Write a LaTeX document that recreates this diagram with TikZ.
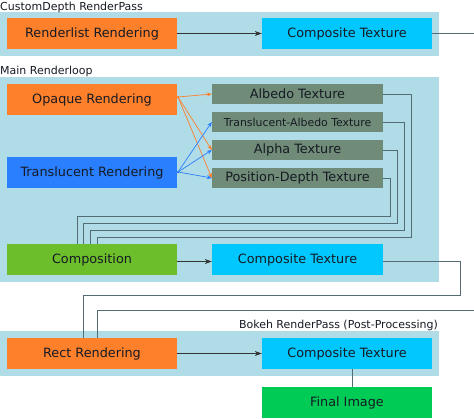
\documentclass[tikz,border=0pt]{standalone}
\usepackage{fontspec}
\setmainfont{DejaVu Sans}
\usetikzlibrary{arrows.meta}
\definecolor{panel}{RGB}{176,220,232}
\definecolor{orng}{RGB}{255,128,42}
\definecolor{cyanb}{RGB}{0,200,255}
\definecolor{texg}{RGB}{112,140,120}
\definecolor{blu}{RGB}{42,127,255}
\definecolor{compg}{RGB}{108,190,42}
\definecolor{fing}{RGB}{0,204,85}
\definecolor{conn}{RGB}{84,108,116}
\definecolor{txt}{RGB}{22,26,36}
\tikzset{
  box/.style={minimum width=170pt, minimum height=31pt, inner sep=0pt, text=txt, font=\fontsize{12.8}{14}\selectfont},
  tex/.style={minimum width=171pt, minimum height=20pt, inner sep=0pt, fill=texg, text=txt, font=\fontsize{12.8}{14}\selectfont},
  lbl/.style={inner sep=0pt, text=txt, font=\fontsize{11}{13}\selectfont},
  wire/.style={draw=conn, line width=1pt},
  flow/.style={draw=black!80, line width=0.9pt, -{Stealth[length=7pt,width=5pt]}},
  oarr/.style={draw=orng, line width=0.7pt, -{Stealth[length=5pt,width=4pt]}},
  barr/.style={draw=blu, line width=0.7pt, -{Stealth[length=5pt,width=4pt]}},
}
\begin{document}
\begin{tikzpicture}[x=1pt,y=-1pt]
\useasboundingbox (0,0) rectangle (474,418);
\clip (0,0) rectangle (474,418);
% panels
\fill[panel] (0,12) rectangle (439,56);
\fill[panel] (0,77) rectangle (439,282);
\fill[panel] (0,331) rectangle (439,376);
% labels
\node[lbl, anchor=base west] (l1) at (0,10) {CustomDepth RenderPass};
\node[lbl, anchor=base west] (l2) at (0,74) {Main Renderloop};
\node[lbl, anchor=base east] (l3) at (438,328) {Bokeh RenderPass (Post-Processing)};
% nodes
\node[box, fill=orng] (rl) at (92,33.5) {Renderlist Rendering};
\node[box, fill=cyanb] (ct1) at (347,33.5) {Composite Texture};
\node[box, fill=orng] (op) at (92,99.5) {Opaque Rendering};
\node[box, fill=blu] (tr) at (92,172.5) {Translucent Rendering};
\node[tex] (alb) at (297.5,94) {Albedo Texture};
\node[tex, font=\fontsize{10.9}{12}\selectfont] (talb) at (297.5,122) {Translucent-Albedo Texture};
\node[tex] (alpha) at (297.5,150) {Alpha Texture};
\node[tex] (pd) at (297.5,178) {Position-Depth Texture};
\node[box, fill=compg] (comp) at (92,259.5) {Composition};
\node[box, fill=cyanb, minimum width=171pt] (ct2) at (297.5,259.5) {Composite Texture};
\node[box, fill=orng] (rect) at (92,353.5) {Rect Rendering};
\node[box, fill=cyanb] (ct3) at (347,353.5) {Composite Texture};
\node[box, fill=fing] (fin) at (347,402.5) {Final Image};
% texture outputs
\draw[wire] (alb.east) -| (411,237) -| ([xshift=5pt]comp.north);
\draw[wire] (talb.east) -| (404,230) -| ([xshift=-2pt]comp.north);
\draw[wire] (alpha.east) -| (397,223) -| ([xshift=-9pt]comp.north);
\draw[wire] (pd.east) -| (390,216) -| ([xshift=-15pt]comp.north);
% composite outputs
\draw[wire] ([yshift=-2pt]ct2.east) -| (460,295) -| ([xshift=-9pt]rect.north);
\draw[wire] (ct1.east) -- (490,33.5) -- (490,310) -| ([xshift=5pt]rect.north);
\draw[wire] ([xshift=5pt]ct3.south) -- ([xshift=5pt]fin.north);
% flows
\draw[flow] (rl) -- (ct1);
\draw[flow] ([yshift=-2pt]comp.east) -- ([yshift=-2pt]ct2.west);
\draw[flow] (rect) -- (ct3);
% coloured arrows
\coordinate (os) at (178,97);
\coordinate (ts) at (178,172);
\fill[orng] (os) circle (1.3pt);
\fill[blu] (ts) circle (1.3pt);
\draw[oarr] (os) -- (alb.west);
\draw[oarr] (os) -- (alpha.west);
\draw[oarr] (os) -- (pd.west);
\draw[barr] (ts) -- (talb.west);
\draw[barr] (ts) -- (alpha.west);
\draw[barr] (ts) -- (pd.west);
\end{tikzpicture}
\end{document}
